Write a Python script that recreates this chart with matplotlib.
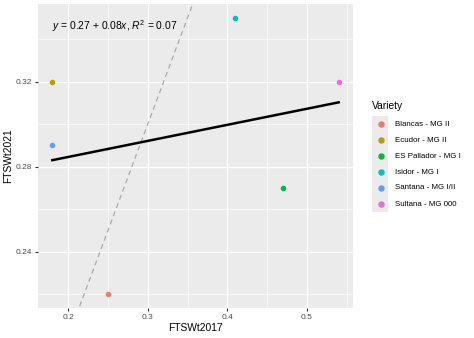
import matplotlib
matplotlib.use("Agg")
import matplotlib.pyplot as plt
import numpy as np
from matplotlib.patches import Rectangle
from matplotlib.lines import Line2D

plt.rcParams['font.family'] = ['Liberation Sans', 'DejaVu Sans']
plt.rcParams['mathtext.fontset'] = 'custom'
plt.rcParams['mathtext.rm'] = 'Liberation Sans'
plt.rcParams['mathtext.it'] = 'Liberation Sans:italic'

# data
varieties = ['Blancas - MG II', 'Ecudor - MG II', 'ES Pallador - MG I',
             'Isidor - MG I', 'Santana - MG I/II', 'Sultana - MG 000']
ftsw2017 = [0.25, 0.18, 0.47, 0.41, 0.18, 0.54]
ftsw2021 = [0.22, 0.32, 0.27, 0.35, 0.29, 0.32]
colors = ['#F8766D', '#B79F00', '#00BA38', '#00BFC4', '#619CFF', '#F564E3']

W, H = 474, 338
fig = plt.figure(figsize=(W/100, H/100), dpi=100)
ax = fig.add_axes([38/W, 1-308/H, 315/W, 304/H])
ax.set_facecolor('#EBEBEB')
for s in ax.spines.values():
    s.set_visible(False)

x = np.array(ftsw2017)
y = np.array(ftsw2021)

# axis ranges like ggplot (5% expansion)
xr = x.max() - x.min()
yr = y.max() - y.min()
xlim = (x.min() - 0.05*xr, x.max() + 0.05*xr)
ylim = (y.min() - 0.05*yr, y.max() + 0.05*yr)
ax.set_xlim(xlim)
ax.set_ylim(ylim)

ax.set_xticks([0.2, 0.3, 0.4, 0.5])
ax.set_xticklabels(['0.2', '0.3', '0.4', '0.5'])
ax.set_yticks([0.24, 0.28, 0.32])
ax.set_yticklabels(['0.24', '0.28', '0.32'])
ax.set_xticks([0.25, 0.35, 0.45, 0.55], minor=True)
ax.set_yticks([0.22, 0.26, 0.30, 0.34], minor=True)
ax.grid(which='major', color='white', lw=1.0)
ax.grid(which='minor', color='white', lw=0.5)
ax.set_axisbelow(True)
ax.tick_params(which='major', length=2.5, color='#333333', labelsize=6,
               labelcolor='#4D4D4D', pad=1.5)
ax.tick_params(which='minor', length=0)

# identity line
ax.plot(xlim, xlim, ls=(0, (4, 3)), color='#AAAAAA', lw=0.9, zorder=2)

# regression line
slope, intercept = np.polyfit(x, y, 1)
r2 = np.corrcoef(x, y)[0, 1]**2
xs = np.array([x.min(), x.max()])
ax.plot(xs, intercept + slope*xs, color='black', lw=1.8, zorder=3)

for xi, yi, c in zip(ftsw2017, ftsw2021, colors):
    ax.scatter(xi, yi, s=16, color=c, zorder=4, linewidths=0)

ax.text(0.1795, 0.346,
        r'$y$ = %.2f + %.2f$x$, $R^2$ = %.2f' % (intercept, slope, r2),
        fontsize=7.4, va='center', ha='left', color='black')

ax.set_xlabel('FTSWt2017', fontsize=7.4, va='center')
ax.set_ylabel('FTSWt2021', fontsize=7.4, va='center')
ax.xaxis.set_label_coords(0.5, -(328-308)/304)
ax.yaxis.set_label_coords(-(38-8)/315, 0.5)

# legend drawn by hand, ggplot style
fig.text(372/W, 1-106/H, 'Variety', fontsize=7.4, va='center', ha='left')
fig.add_artist(Rectangle((372/W, 1-212/H), 16/W, 96/H,
                         transform=fig.transFigure, facecolor='#EBEBEB',
                         edgecolor='none'))
for i, (name, c) in enumerate(zip(varieties, colors)):
    yy = 1 - (124 + i*16)/H
    fig.add_artist(Line2D([381/W], [yy], marker='o', markersize=3.6,
                          color=c, transform=fig.transFigure, lw=0))
    fig.text(395/W, yy, name, fontsize=5.7, va='center', ha='left')

fig.savefig('out.png', dpi=100)
